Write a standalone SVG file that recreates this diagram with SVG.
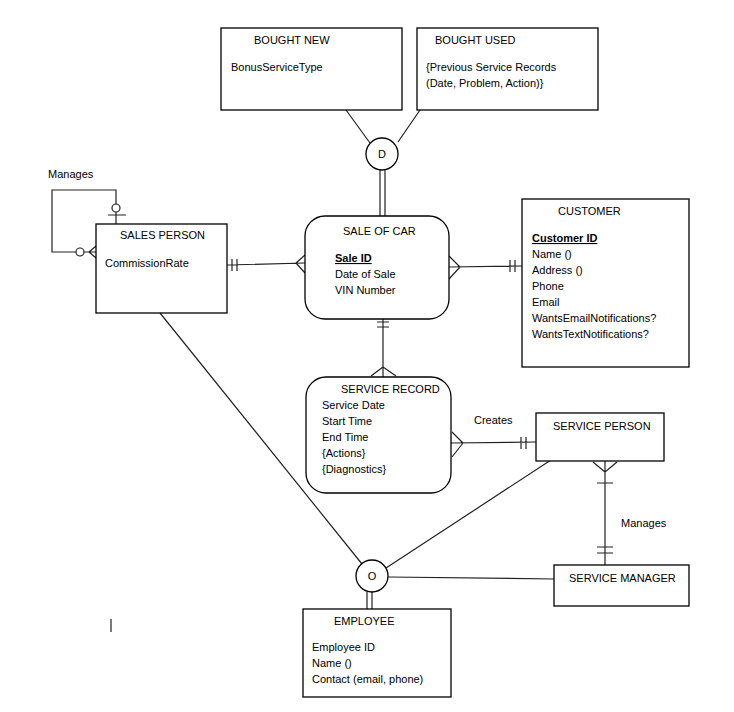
<svg xmlns="http://www.w3.org/2000/svg" width="734" height="712" viewBox="0 0 734 712">
<style>
.b{fill:#fff;stroke:#000;stroke-width:1.3}
.l{fill:none;stroke:#222;stroke-width:1.2}
text{font-family:"Liberation Sans",Arial,sans-serif;font-size:11px;fill:#000}
.u{text-decoration:underline;font-weight:bold}
</style>
<rect width="734" height="712" fill="#fff"/>
<g id="connectors" class="l">
<path d="M346,110L370,143M420,110L398,142M380,170V216M385,170V216"/>
<path d="M227,265L305,263M232,259V271M237,259V271M296,263L305,255M296,263L305,273"/>
<path d="M449,267L522,266M460,267L449,256M460,267L449,279M510,260V272M515,260V272"/>
<path d="M383,319V377M377,322H389M377,327H389M383,367L371,376M383,367L396,376"/>
<path d="M451,443L536,442M463,443L452,432M463,443L452,457M521,437V449M526,437V449"/>
<path d="M605,461V565M605,472L593,462M605,472L617,462M597,483H613M597,547H613M597,553H613"/>
<path d="M388,577L554,579M386,568L551,460M160,313L362,564M367,592V609M372,592V609"/>
<path d="M116,204V190H52V252H76M84,252H96M89,252L96,246M89,252L96,258M116,212V224M108,215H126"/>
<circle cx="116" cy="208" r="4"/><circle cx="80" cy="252" r="4"/>
<path d="M111,619V632"/>
</g>
<text x="48" y="178">Manages</text>
<text x="474" y="424">Creates</text>
<text x="621" y="527">Manages</text>
<g id="bought_new"><rect class="b" x="221" y="28" width="181" height="82"/><text x="254" y="44">BOUGHT NEW</text><text x="231" y="71">BonusServiceType</text></g>
<g id="bought_used"><rect class="b" x="417" y="28" width="181" height="82"/><text x="435" y="44">BOUGHT USED</text><text x="426" y="71">{Previous Service Records</text><text x="426" y="87">(Date, Problem, Action)}</text></g>
<g id="d"><circle class="b" cx="382" cy="154" r="16"/><text x="382" y="158" text-anchor="middle">D</text></g>
<g id="sale_of_car"><rect class="b" x="305" y="216" width="144" height="103" rx="20"/><text x="343" y="235">SALE OF CAR</text><text x="335" y="262" class="u">Sale ID</text><text x="335" y="278">Date of Sale</text><text x="335" y="294">VIN Number</text></g>
<g id="sales_person"><rect class="b" x="96" y="224" width="131" height="89"/><text x="120" y="239">SALES PERSON</text><text x="105" y="267">CommissionRate</text></g>
<g id="customer"><rect class="b" x="522" y="199" width="167" height="168"/><text x="558" y="215">CUSTOMER</text><text x="532" y="242" class="u">Customer ID</text><text x="532" y="258">Name ()</text><text x="532" y="274">Address ()</text><text x="532" y="290">Phone</text><text x="532" y="306">Email</text><text x="532" y="322">WantsEmailNotifications?</text><text x="532" y="338">WantsTextNotifications?</text></g>
<g id="service_record"><rect class="b" x="306" y="377" width="145" height="116" rx="20"/><text x="341" y="393">SERVICE RECORD</text><text x="322" y="409">Service Date</text><text x="322" y="425">Start Time</text><text x="322" y="441">End Time</text><text x="322" y="457">{Actions}</text><text x="322" y="473">{Diagnostics}</text></g>
<g id="service_person"><rect class="b" x="536" y="413" width="128" height="48"/><text x="553" y="430">SERVICE PERSON</text></g>
<g id="service_manager"><rect class="b" x="554" y="565" width="135" height="41"/><text x="569" y="582">SERVICE MANAGER</text></g>
<g id="o"><circle class="b" cx="372" cy="576" r="16"/><text x="372" y="580" text-anchor="middle">O</text></g>
<g id="employee"><rect class="b" x="303" y="609" width="148" height="88"/><text x="334" y="625">EMPLOYEE</text><text x="312" y="651">Employee ID</text><text x="312" y="667">Name ()</text><text x="312" y="683">Contact (email, phone)</text></g>
</svg>
